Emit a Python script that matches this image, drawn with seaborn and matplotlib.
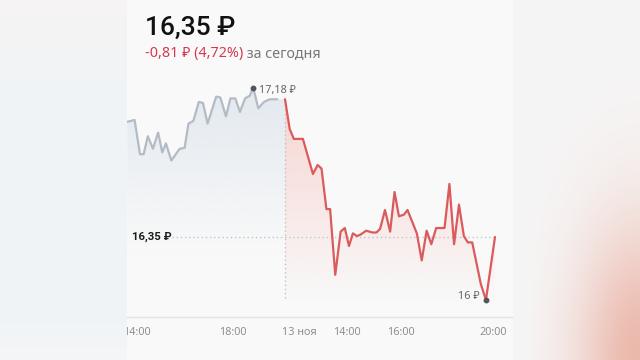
import numpy as np
import pandas as pd
import matplotlib
matplotlib.use("Agg")
import matplotlib.pyplot as plt
import seaborn as sns
from matplotlib.colors import to_rgba
from matplotlib.patches import Polygon
import matplotlib.transforms as mtransforms

# ---------------- data ----------------
# time position in hours on the compressed trading axis (0 = left edge of view)
prev_t = [0.01, 0.31, 0.53, 0.68, 0.85, 1.06, 1.27, 1.44, 1.59, 1.81,
          2.15, 2.35, 2.51, 2.71, 2.93, 3.10, 3.29, 3.64, 3.81, 4.04,
          4.22, 4.42, 4.61, 4.82, 5.01, 5.15, 5.36, 5.59, 5.82, 6.13]
prev_price = [16.99, 17.00, 16.81, 16.81, 16.91, 16.84, 16.93, 16.82, 16.87, 16.775,
              16.84, 16.845, 16.98, 16.995, 17.10, 17.095, 16.98, 17.13, 17.125, 17.02,
              17.12, 17.12, 17.045, 17.12, 17.135, 17.18, 17.065, 17.10, 17.115, 17.115]
today_t = [6.45, 6.64, 6.81, 7.18, 7.59, 7.78, 7.94, 8.14, 8.29, 8.50,
           8.72, 8.89, 9.06, 9.22, 9.39, 9.55, 9.76, 10.02, 10.18, 10.33,
           10.53, 10.74, 10.92, 11.10, 11.31, 11.45, 11.83, 12.03, 12.23, 12.42,
           12.62, 12.96, 13.16, 13.35, 13.55, 13.75, 13.91, 14.09, 14.44, 14.65,
           15.02]
today_price = [17.115, 16.95, 16.895, 16.895, 16.70, 16.75, 16.73, 16.505, 16.505, 16.14,
               16.38, 16.40, 16.30, 16.37, 16.355, 16.365, 16.385, 16.375, 16.375, 16.395,
               16.50, 16.38, 16.60, 16.465, 16.475, 16.50, 16.37, 16.22, 16.385, 16.31,
               16.40, 16.40, 16.645, 16.31, 16.53, 16.355, 16.32, 16.32, 16.09, 16.00,
               16.35]
tick_pos = [0.41, 4.31, 7.02, 8.98, 11.19, 14.93]
tick_labels = ["14:00", "18:00", "13 ноя", "14:00", "16:00", "20:00"]

title_text = "16,35 ₽"
change_text = "-0,81 ₽ (4,72%)"
period_text = " за сегодня"

# ---------------- style ----------------
sns.set_theme(style="white")
FAM = ["Noto Sans", "DejaVu Sans"]
BOLDFAM = ["Roboto", "Noto Sans", "DejaVu Sans"]
plt.rcParams["font.family"] = FAM

CARD = "#f9f9f9"
GREY_LINE = "#b3bcc4"
RED_LINE = "#db5a5b"
RED_TXT = "#d33a4f"

fig = plt.figure(figsize=(6.4, 3.6), dpi=100)
fig.patch.set_facecolor(CARD)

W, H = 640.0, 360.0
card_l, card_r = 127, 513
ax = fig.add_axes([card_l / W, 1 - 317 / H, (card_r - card_l) / W, (317 - 80) / H])
ax.set_facecolor("none")

def fmt_price(v):
    s = f"{v:.2f}".rstrip("0").rstrip(".")
    return s.replace(".", ",") + " ₽"

def gradient_fill(ax, x, y, color, a_top, a_bot, y_bot, y_fade, zorder):
    x = np.asarray(x, float); y = np.asarray(y, float)
    verts = np.vstack([np.column_stack([x, y]), [[x[-1], y_bot], [x[0], y_bot]]])
    poly = Polygon(verts, closed=True, facecolor="none", edgecolor="none")
    ax.add_patch(poly)
    n = 256
    ys = np.linspace(y_bot, y.max(), n)
    a = np.clip((ys - y_fade) / (y.max() - y_fade), 0, 1)
    a = a_bot + (a_top - a_bot) * a
    img = np.zeros((n, 2, 4))
    img[..., :3] = to_rgba(color)[:3]
    img[..., 3] = a[:, None]
    im = ax.imshow(img, extent=[x.min(), x.max(), y_bot, y.max()], origin="lower",
                   aspect="auto", zorder=zorder, interpolation="bilinear")
    im.set_clip_path(poly)

ylo, yhi = 15.9056, 17.2222
xlo, xhi = 0, (card_r - card_l) / 24.5

gradient_fill(ax, prev_t + [today_t[0]], prev_price + [today_price[0]], "#e3e9ef", 1.0, 0.0, ylo, 16.25, 1)
gradient_fill(ax, today_t, today_price, "#f6cfcb", 0.85, 0.0, ylo, 15.98, 1)

prev_df = pd.DataFrame({"t": prev_t, "price": prev_price})
today_df = pd.DataFrame({"t": today_t, "price": today_price})
sns.lineplot(data=prev_df, x="t", y="price", ax=ax, color=GREY_LINE, linewidth=1.6, zorder=3)
sns.lineplot(data=today_df, x="t", y="price", ax=ax, color=RED_LINE, linewidth=1.6, zorder=3)

# reference lines
last = today_price[-1]
ax.vlines(today_t[0], min(today_price) + 0.01, today_price[0], colors="#c4c4c4",
          linestyles=(0, (1, 2)), linewidth=1.0, zorder=2)
ax.hlines(last, 1.84, today_t[-1], colors="#c4c4c4", linestyles=(0, (1, 2)),
          linewidth=1.0, zorder=2)
blend = mtransforms.blended_transform_factory(ax.transAxes, ax.transData)
ax.text(0.013, last, fmt_price(last), transform=blend, ha="left", va="center",
        fontsize=8.2, fontweight="bold", color="#1e1e1e", family=BOLDFAM, zorder=5)

# max / min markers
all_t = prev_t + today_t
all_p = prev_price + today_price
i_max = int(np.argmax(all_p)); i_min = int(np.argmin(all_p))
for i in (i_max, i_min):
    ax.plot(all_t[i], all_p[i], "o", color="#555555", markersize=3.2, zorder=6)
ax.annotate(fmt_price(all_p[i_max]), (all_t[i_max], all_p[i_max]), xytext=(4.5, -2.2),
            textcoords="offset points", ha="left", va="center", fontsize=7.8,
            color="#666666", family=FAM, zorder=6)
ax.annotate(fmt_price(all_p[i_min]), (all_t[i_min], all_p[i_min]), xytext=(-4.5, 2.2),
            textcoords="offset points", ha="right", va="center", fontsize=7.8,
            color="#666666", family=FAM, zorder=6)

ax.set_xlim(xlo, xhi)
ax.set_ylim(ylo, yhi)
ax.set_xticks(tick_pos)
ax.set_xticklabels(tick_labels)
ax.set_yticks([])
ax.set_xlabel(""); ax.set_ylabel("")
ax.tick_params(axis="x", length=0, pad=7.5, labelsize=7.8, labelcolor="#909090")
for s in ("top", "left", "right"):
    ax.spines[s].set_visible(False)
ax.spines["bottom"].set_color("#e3e3e3")
ax.spines["bottom"].set_linewidth(1.0)

# ---------------- blurred side panels ----------------
left_bg = fig.add_axes([0, 0, card_l / W, 1], zorder=10)
v = np.linspace(0, 1, 200)[:, None]
top_c = np.array(to_rgba("#f6f4f4")[:3]); mid_c = np.array(to_rgba("#eff3f6")[:3])
bot_c = np.array(to_rgba("#f4f6f7")[:3])
w1 = np.clip(v / 0.3, 0, 1)
w2 = np.clip((v - 0.85) / 0.15, 0, 1)
col = top_c * (1 - w1) + mid_c * w1
col = col * (1 - w2) + bot_c * w2
left_img = np.repeat(col[:, None, :], 2, axis=1)
left_bg.imshow(left_img, aspect="auto", extent=[0, 1, 0, 1], origin="upper")
left_bg.axis("off")

right_bg = fig.add_axes([card_r / W, 0, 1 - card_r / W, 1], zorder=10)
uu, vv = np.meshgrid(np.linspace(0, 1, 120), np.linspace(0, 1, 200))
base = np.array(to_rgba("#f6f5f5")[:3])
salmon = np.array(to_rgba("#eaae9f")[:3])
wgt = 0.85 * np.exp(-(((1 - uu) / 0.5) ** 2 + ((1 - vv) / 0.38) ** 2))
edge = np.clip(uu / 0.25, 0, 1)
wgt = wgt * edge
right_img = base[None, None, :] * (1 - wgt[..., None]) + salmon[None, None, :] * wgt[..., None]
right_bg.imshow(right_img, aspect="auto", extent=[0, 1, 0, 1], origin="upper")
right_bg.axis("off")

# ---------------- header ----------------
fig.text(145 / W, 1 - 35 / H, title_text, fontsize=19, fontweight="medium",
         color="#111111", family=BOLDFAM, va="baseline", ha="left")
t1 = fig.text(145 / W, 1 - 57 / H, change_text, fontsize=10.3, color=RED_TXT,
              family=FAM, va="baseline", ha="left")
fig.canvas.draw()
bb = t1.get_window_extent(renderer=fig.canvas.get_renderer())
fig.text(bb.x1 / fig.bbox.width, 1 - 57 / H, period_text, fontsize=10.3, color="#777777",
         family=FAM, va="baseline", ha="left")

fig.savefig("out.png", dpi=100, facecolor=fig.get_facecolor())
